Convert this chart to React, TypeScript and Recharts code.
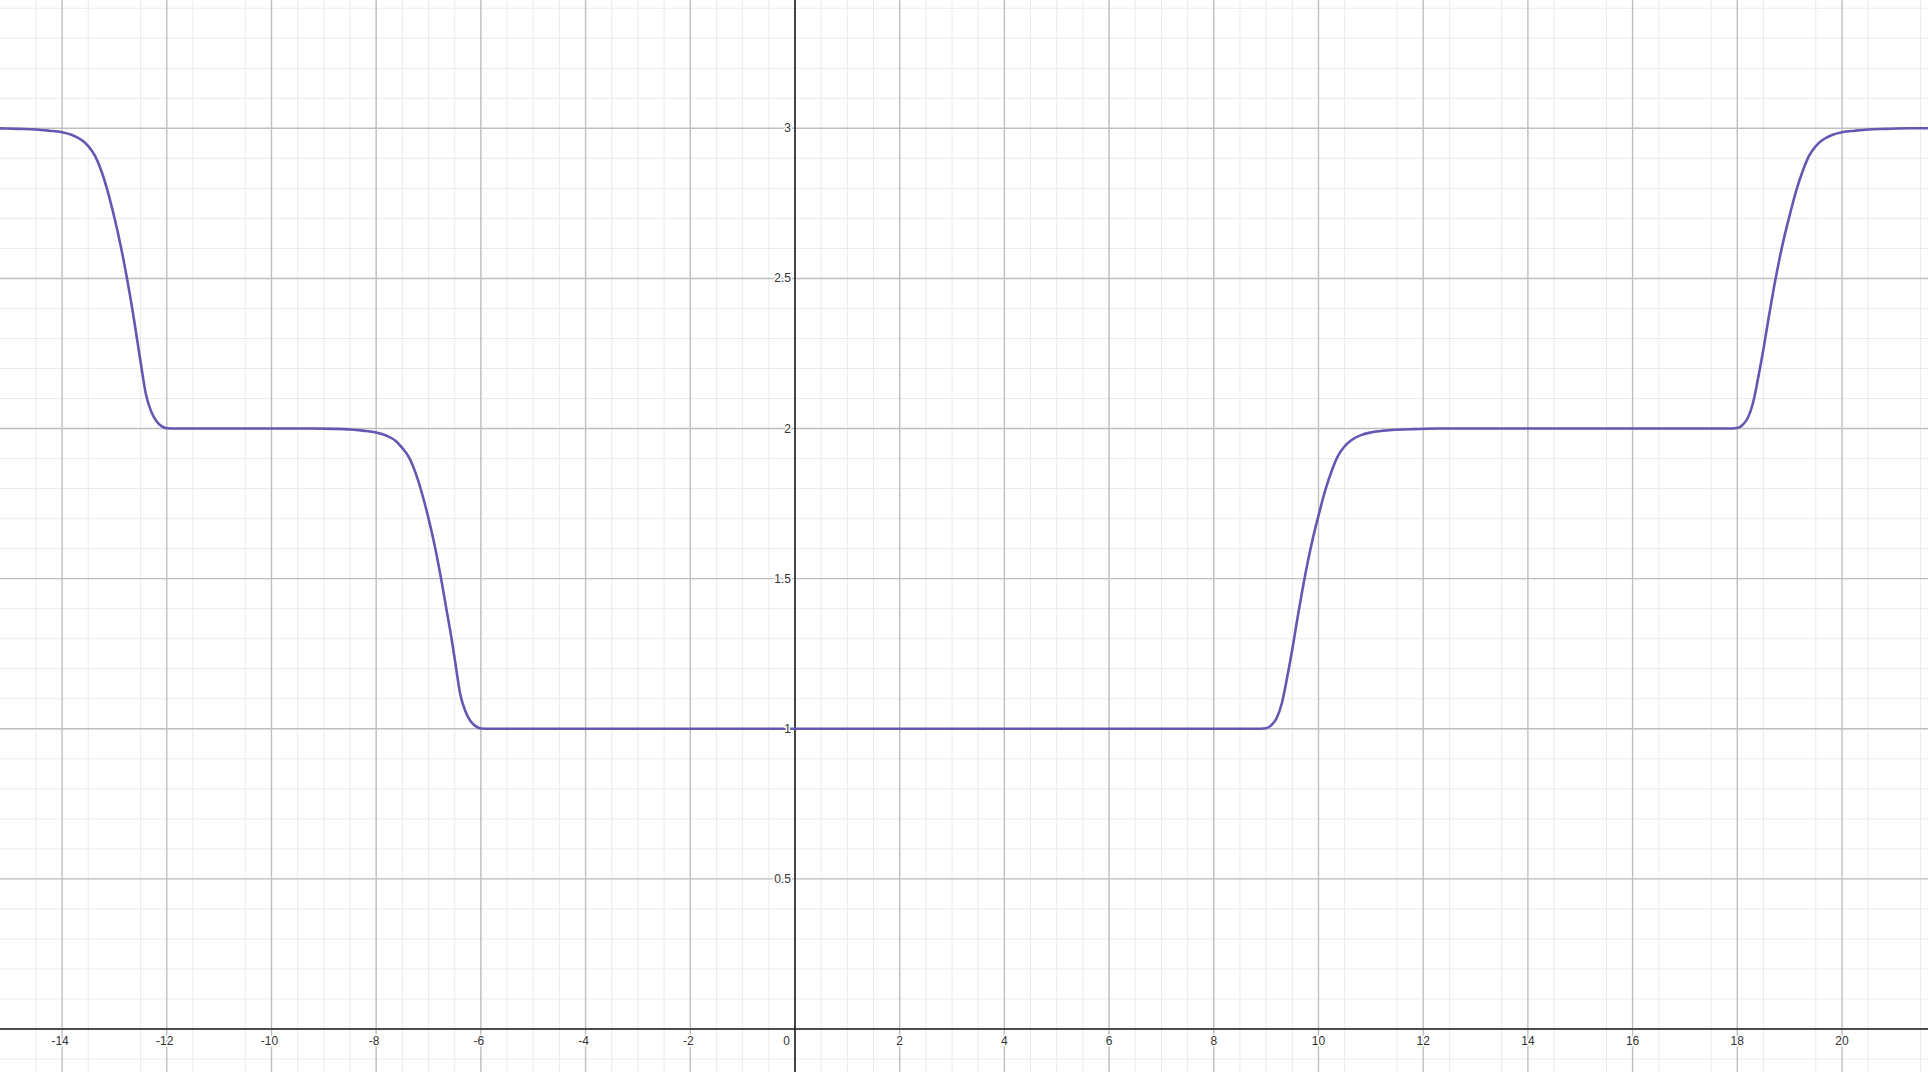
import React from 'react';
import {
  LineChart,
  Line,
  XAxis,
  YAxis,
  CartesianGrid,
  ReferenceLine,
  ReferenceDot,
} from 'recharts';

// Curve points (x, y)
const curveX = [
  // plateau 3, drop to 2 (ends at -12)
  -15.2, -14.83, -14.5, -14.25, -14.0, -13.81, -13.62, -13.5, -13.37, -13.25, -13.13, -13.0, -12.87, -12.76,
  -12.66, -12.57, -12.49, -12.4, -12.3, -12.2, -12.1, -12.0, -11.8,
  // plateau 2, drop to 1 (ends at -6)
  -9.2, -8.8, -8.5, -8.25, -8.0, -7.81, -7.62, -7.5, -7.37, -7.25, -7.13, -7.0, -6.87, -6.76, -6.66, -6.56,
  -6.48, -6.4, -6.3, -6.2, -6.1, -6.0, -5.8,
  // plateau 1, rise to 2 (starts at 9)
  8.8, 9.0, 9.1, 9.2, 9.3, 9.4, 9.5, 9.6, 9.7, 9.8, 9.9, 10.0, 10.13, 10.25, 10.37, 10.5, 10.62, 10.81, 11.0,
  11.25, 11.5, 11.83, 12.3,
  // plateau 2, rise to 3 (starts at 18)
  17.8, 18.0, 18.1, 18.2, 18.3, 18.4, 18.5, 18.6, 18.7, 18.8, 18.9, 19.0, 19.13, 19.25, 19.37, 19.5, 19.62,
  19.81, 20.0, 20.25, 20.5, 20.83, 21.3, 21.7,
];
const curveY = [
  3.0, 2.998, 2.996, 2.992, 2.987, 2.978, 2.96, 2.941, 2.908, 2.858, 2.791, 2.702, 2.6, 2.5,
  2.4, 2.3, 2.21, 2.115, 2.058, 2.025, 2.008, 2.001, 2.0,
  2.0, 1.999, 1.997, 1.993, 1.987, 1.977, 1.958, 1.935, 1.903, 1.853, 1.787, 1.7, 1.6, 1.5, 1.4, 1.3,
  1.21, 1.12, 1.06, 1.026, 1.009, 1.001, 1.0,
  1.0, 1.002, 1.012, 1.035, 1.085, 1.17, 1.265, 1.37, 1.47, 1.56, 1.64, 1.71, 1.795, 1.858, 1.908, 1.941, 1.96,
  1.978, 1.987, 1.993, 1.996, 1.998, 2.0,
  2.0, 2.002, 2.012, 2.035, 2.085, 2.17, 2.265, 2.37, 2.47, 2.56, 2.64, 2.71, 2.795, 2.858, 2.908, 2.941, 2.96,
  2.978, 2.987, 2.992, 2.996, 2.998, 3.0, 3.0,
];

const xTickLabels = [-14, -12, -10, -8, -6, -4, -2, 2, 4, 6, 8, 10, 12, 14, 16, 18, 20];
const yTickLabels = [0.5, 1, 1.5, 2, 2.5, 3];

const X_DOMAIN: [number, number] = [-15.186, 21.643];
const Y_DOMAIN: [number, number] = [-0.1432, 3.4274];

const range = (start: number, end: number, step: number) => {
  const out: number[] = [];
  const n = Math.round((end - start) / step);
  for (let i = 0; i <= n; i++) out.push(+(start + i * step).toFixed(4));
  return out;
};

const xMinor = range(-15, 21.5, 0.5);
const xMajor = range(-14, 20, 2);
const yMinor = range(-0.1, 3.4, 0.1);
const yMajor = range(0, 3, 0.5);

const data = curveX.map((x, i) => ({ x, y: curveY[i] }));

const FONT = '"Liberation Sans", Arial, sans-serif';

const haloText = (x: number, y: number, text: string, anchor: 'start' | 'middle' | 'end') => (
  <g>
    <text
      x={x}
      y={y}
      textAnchor={anchor}
      dominantBaseline="central"
      fontFamily={FONT}
      fontSize={12}
      fill="#ffffff"
      stroke="#ffffff"
      strokeWidth={3}
      strokeLinejoin="round"
    >
      {text}
    </text>
    <text
      x={x}
      y={y}
      textAnchor={anchor}
      dominantBaseline="central"
      fontFamily={FONT}
      fontSize={12}
      fill="#333333"
    >
      {text}
    </text>
  </g>
);

const xLabel = (value: number) => (props: any) => {
  const vb = props.viewBox || {};
  const cx = (vb.x ?? 0) + (vb.width ?? 0) / 2;
  const cy = (vb.y ?? 0) + (vb.height ?? 0) / 2;
  const neg = value < 0;
  return haloText(cx - (neg ? 2 : 0), cy + 12, String(value), 'middle');
};

const zeroLabel = (props: any) => {
  const vb = props.viewBox || {};
  const cx = (vb.x ?? 0) + (vb.width ?? 0) / 2;
  const cy = (vb.y ?? 0) + (vb.height ?? 0) / 2;
  return haloText(cx - 5, cy + 12, '0', 'end');
};

const yLabel = (value: number) => (props: any) => {
  const vb = props.viewBox || {};
  const cx = (vb.x ?? 0) + (vb.width ?? 0) / 2;
  const cy = (vb.y ?? 0) + (vb.height ?? 0) / 2;
  return haloText(cx - 4, cy, String(value), 'end');
};

export default function App() {
  return (
    <div style={{ position: 'fixed', top: 0, left: 0, width: 1928, height: 1072, background: '#ffffff' }}>
      <LineChart width={1928} height={1072} data={data} margin={{ top: 0, right: 0, bottom: 0, left: 0 }}>
        <XAxis dataKey="x" type="number" domain={X_DOMAIN} allowDataOverflow hide />
        <YAxis type="number" domain={Y_DOMAIN} allowDataOverflow hide />
        <CartesianGrid
          horizontalValues={yMinor}
          verticalValues={xMinor}
          stroke="#ebebeb"
          strokeWidth={1}
        />
        <CartesianGrid
          horizontalValues={yMajor}
          verticalValues={xMajor}
          stroke="#bfbfbf"
          strokeWidth={1.4}
        />
        <ReferenceLine x={0} stroke="#222222" strokeWidth={1.6} ifOverflow="extendDomain" />
        <ReferenceLine y={0} stroke="#222222" strokeWidth={1.6} ifOverflow="extendDomain" />
        {xTickLabels.map((v) => (
          <ReferenceDot
            key={'xl' + v}
            x={v}
            y={0}
            r={0}
            fill="none"
            stroke="none"
            label={xLabel(v)}
          />
        ))}
        <ReferenceDot x={0} y={0} r={0} fill="none" stroke="none" label={zeroLabel} />
        {yTickLabels.map((v) => (
          <ReferenceDot
            key={'yl' + v}
            x={0}
            y={v}
            r={0}
            fill="none"
            stroke="none"
            label={yLabel(v)}
          />
        ))}
        <Line
          type="monotone"
          dataKey="y"
          stroke="#6656b2"
          strokeWidth={2.6}
          dot={false}
          activeDot={false}
          isAnimationActive={false}
        />
      </LineChart>
    </div>
  );
}
